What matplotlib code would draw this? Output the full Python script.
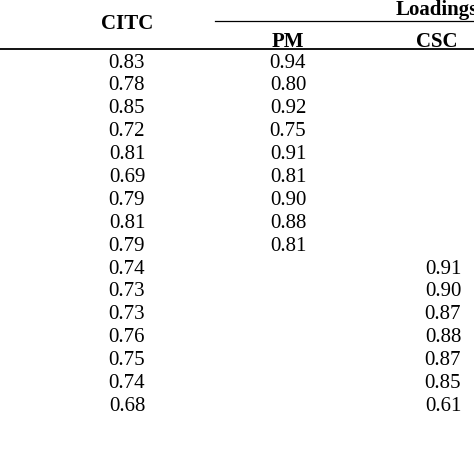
import matplotlib.pyplot as plt

citc = ["0.83", "0.78", "0.85", "0.72", "0.81", "0.69", "0.79", "0.81", "0.79",
        "0.74", "0.73", "0.73", "0.76", "0.75", "0.74", "0.68"]
pm = ["0.94", "0.80", "0.92", "0.75", "0.91", "0.81", "0.90", "0.88", "0.81"]
csc = ["0.91", "0.90", "0.87", "0.88", "0.87", "0.85", "0.61"]

plt.rcParams['font.family'] = ['Liberation Serif', 'DejaVu Serif']
fig = plt.figure(figsize=(4.74, 4.74), dpi=100)
ax = fig.add_axes([0, 0, 1, 1])
ax.set_xlim(0, 474)
ax.set_ylim(474, 0)
ax.axis('off')

fs = 15
ax.text(127, 24, "CITC", ha='center', va='center', fontsize=fs, fontweight='bold')
ax.text(396, 10, "Loadings", ha='left', va='center', fontsize=fs, fontweight='bold')
ax.text(288, 42, "PM", ha='center', va='center', fontsize=fs, fontweight='bold')
ax.text(437, 42, "CSC", ha='center', va='center', fontsize=fs, fontweight='bold')
ax.plot([215, 474], [21, 21], color='black', lw=0.9)
ax.plot([0, 474], [49, 49], color='black', lw=1.3)

y0, dy = 63, 22.9
for i, v in enumerate(citc):
    ax.text(127, y0 + i * dy, v, ha='center', va='center', fontsize=fs)
for i, v in enumerate(pm):
    ax.text(288, y0 + i * dy, v, ha='center', va='center', fontsize=fs)
for i, v in enumerate(csc):
    ax.text(443, y0 + (len(pm) + i) * dy, v, ha='center', va='center', fontsize=fs)

fig.savefig("out.png", dpi=100)
